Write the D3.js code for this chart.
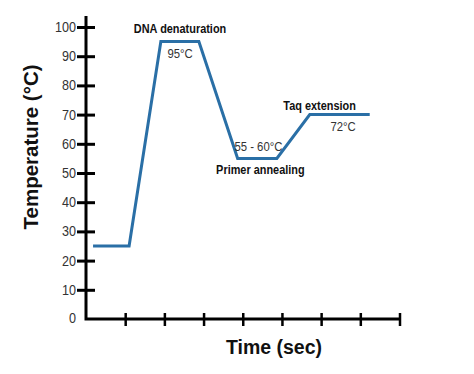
<!DOCTYPE html>
<html><head><meta charset="utf-8">
<script src="https://cdn.jsdelivr.net/npm/d3@7"></script>
<style>body{margin:0;background:#fff}svg{display:block}</style>
</head><body>
<script>
const timePts = [0.18, 1.1, 1.91, 2.88, 3.87, 4.87, 5.71, 7.24];
const tempPts = [25, 25, 95, 95, 55, 55, 70, 70];
const yTicks = [10,20,30,40,50,60,70,80,90,100];
const xTicks = [1,2,3,4,5,6,7,8];
const annotations = [
  {t:"DNA denaturation", x:2.4, y:97.9, bold:true},
  {t:"95°C", x:2.4, y:89.4, bold:false},
  {t:"55 - 60°C", x:4.4, y:57.6, bold:false},
  {t:"Primer annealing", x:4.45, y:49.6, bold:true},
  {t:"Taq extension", x:5.96, y:71.6, bold:true},
  {t:"72°C", x:6.56, y:64.4, bold:false}
];

const W=474,H=374;
const SANS="'Liberation Sans', Arial, sans-serif";
const SQ=0.84;  // horizontal condensing of annotation text
const SQT=0.9;  // horizontal condensing of tick labels
const svg=d3.select("body").append("svg").attr("width",W).attr("height",H);
const x=d3.scaleLinear().domain([0,8]).range([86,399.5]);
const y=d3.scaleLinear().domain([0,100]).range([319,27]);

// y axis
const ya=svg.append("g").attr("transform","translate(86,0)")
  .call(d3.axisLeft(y).tickValues(yTicks).tickSize(9).tickPadding(3));
ya.select(".domain").remove();
ya.selectAll(".tick line").attr("x1",-9).attr("x2",9).attr("stroke","#000").attr("stroke-width",3);
ya.selectAll(".tick text").attr("font-family",SANS).attr("font-size",14).attr("fill","#333")
  .attr("x",-10/SQT).attr("transform",`scale(${SQT},1)`);
svg.append("text").attr("transform",`translate(76,323) scale(${SQT},1)`).attr("text-anchor","end")
  .attr("font-family",SANS).attr("font-size",14).attr("fill","#333").text("0");

// x axis
const xa=svg.append("g").attr("transform","translate(0,319)")
  .call(d3.axisBottom(x).tickValues(xTicks).tickSize(7).tickFormat(""));
xa.select(".domain").remove();
xa.selectAll(".tick line").attr("y1",-6).attr("y2",7).attr("stroke","#000").attr("stroke-width",2.5);

// axis lines
svg.append("path").attr("d",`M86,16V319H${x(8)+1}`).attr("fill","none").attr("stroke","#000").attr("stroke-width",3);

// data line
const line=d3.line().x((d,i)=>x(timePts[i])).y((d,i)=>y(tempPts[i]));
svg.append("path").datum(tempPts).attr("d",line).attr("fill","none")
  .attr("stroke","#2a6fa6").attr("stroke-width",3).attr("stroke-linejoin","miter");

// annotations
svg.selectAll("text.ann").data(annotations).enter().append("text").attr("class","ann")
  .attr("transform",d=>`translate(${x(d.x)},${y(d.y)}) scale(${SQ},1)`).attr("text-anchor","middle")
  .attr("font-family",SANS)
  .attr("font-size",d=>d.bold?13:13.5).attr("font-weight",d=>d.bold?"bold":"normal")
  .attr("fill",d=>d.bold?"#111":"#333").text(d=>d.t);

// axis titles
svg.append("text").attr("x",274).attr("y",354).attr("text-anchor","middle")
  .attr("font-family",SANS).attr("font-size",19.5).attr("font-weight","bold").attr("fill","#111").text("Time (sec)");
svg.append("text").attr("transform","translate(38,147) rotate(-90)").attr("text-anchor","middle")
  .attr("font-family",SANS).attr("font-size",20.5).attr("font-weight","bold").attr("fill","#111").text("Temperature (°C)");
</script>
</body></html>
